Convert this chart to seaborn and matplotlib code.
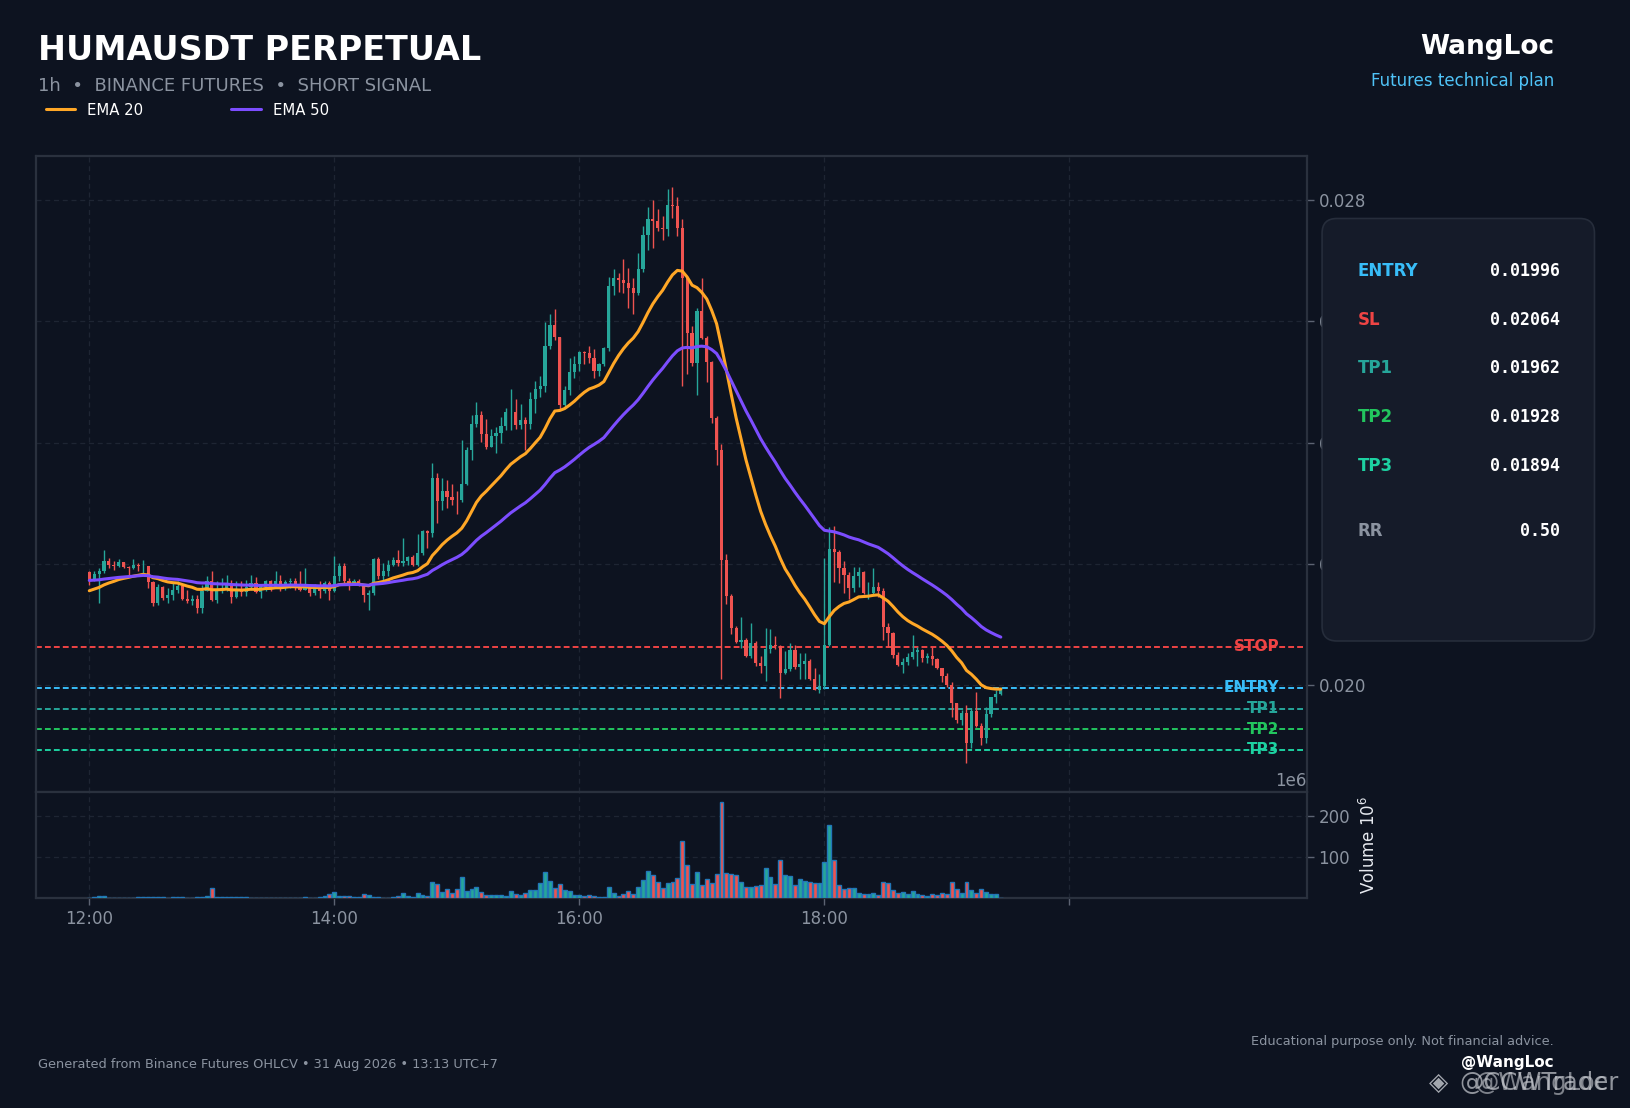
import numpy as np
import pandas as pd
import seaborn as sns
import matplotlib.pyplot as plt
import matplotlib.transforms as mtransforms
from matplotlib.patches import FancyBboxPatch
from matplotlib.ticker import FormatStrFormatter

# ---- data (one candle per slot, 25 slots per hour from 12:00) ----
first_open = 0.021863
closes = [
    0.021742, 0.021841, 0.021879, 0.022055, 0.021989, 0.021962, 0.022033, 0.021945, 0.021934, 0.021989,
    0.021962, 0.021973, 0.021704, 0.021358, 0.021616, 0.021440, 0.021484, 0.021577, 0.021632, 0.021429,
    0.021385, 0.021429, 0.021275, 0.021561, 0.021715, 0.021402, 0.021577, 0.021605, 0.021660, 0.021451,
    0.021577, 0.021539, 0.021616, 0.021687, 0.021539, 0.021616, 0.021715, 0.021605, 0.021715, 0.021605,
    0.021704, 0.021715, 0.021616, 0.021577, 0.021660, 0.021522, 0.021616, 0.021550, 0.021687, 0.021550,
    0.021797, 0.021973, 0.021715, 0.021690, 0.021716, 0.021645, 0.021497, 0.021525, 0.022082, 0.021809,
    0.021880, 0.021989, 0.022071, 0.022016, 0.022044, 0.022115, 0.021989, 0.022180, 0.022552, 0.022508,
    0.023410, 0.023044, 0.023202, 0.023098, 0.023055, 0.023050, 0.023317, 0.023874, 0.024311, 0.024448,
    0.024136, 0.023929, 0.024104, 0.024158, 0.024268, 0.024497, 0.024503, 0.024284, 0.024366, 0.024300,
    0.024710, 0.024885, 0.024940, 0.025595, 0.025940, 0.025732, 0.024612, 0.024858, 0.025158, 0.025295,
    0.025497, 0.025480, 0.025400, 0.025178, 0.025289, 0.025556, 0.026583, 0.026706, 0.026678, 0.026622,
    0.026550, 0.026467, 0.026856, 0.027411, 0.027678, 0.027650, 0.027528, 0.027511, 0.027917, 0.027894,
    0.027539, 0.026706, 0.025806, 0.025317, 0.026161, 0.025728, 0.025333, 0.024411, 0.023872, 0.022067,
    0.021472, 0.020939, 0.020722, 0.020750, 0.020483, 0.020706, 0.020372, 0.020317, 0.020606, 0.020661,
    0.020650, 0.020211, 0.020267, 0.020578, 0.020300, 0.020361, 0.020411, 0.020111, 0.019933, 0.019989,
    0.020667, 0.022242, 0.022204, 0.021929, 0.021820, 0.021600, 0.021803, 0.021874, 0.021518, 0.021530,
    0.021617, 0.021562, 0.020969, 0.020859, 0.020502, 0.020338, 0.020392, 0.020463, 0.020557, 0.020585,
    0.020458, 0.020480, 0.020431, 0.020283, 0.020156, 0.020008, 0.019706, 0.019432, 0.019542, 0.019048,
    0.019584, 0.019333, 0.019130, 0.019525, 0.019805, 0.019860, 0.019937,
]
highs = [
    0.021890, 0.021879, 0.021934, 0.022236, 0.022099, 0.022044, 0.022088, 0.022033, 0.021962, 0.022088,
    0.022016, 0.022066, 0.021973, 0.021726, 0.021671, 0.021632, 0.021605, 0.021687, 0.021715, 0.021660,
    0.021577, 0.021484, 0.021495, 0.021660, 0.021797, 0.021890, 0.021715, 0.021769, 0.021824, 0.021742,
    0.021715, 0.021715, 0.021742, 0.021813, 0.021780, 0.021671, 0.021742, 0.021742, 0.021890, 0.021813,
    0.021742, 0.021769, 0.021769, 0.021890, 0.021934, 0.021671, 0.021671, 0.021715, 0.021715, 0.021715,
    0.022137, 0.022016, 0.022016, 0.021771, 0.021754, 0.021760, 0.021661, 0.021579, 0.022095, 0.022115,
    0.022016, 0.022071, 0.022115, 0.022235, 0.022426, 0.022126, 0.022153, 0.022492, 0.022563, 0.022560,
    0.023656, 0.023503, 0.023410, 0.023382, 0.023317, 0.023202, 0.024038, 0.023929, 0.024448, 0.024666,
    0.024519, 0.024393, 0.024229, 0.024257, 0.024421, 0.024574, 0.024885, 0.024721, 0.024639, 0.024421,
    0.024830, 0.025022, 0.025104, 0.025989, 0.026125, 0.026196, 0.025740, 0.024940, 0.025393, 0.025431,
    0.025513, 0.025513, 0.025590, 0.025539, 0.025317, 0.025578, 0.026733, 0.026861, 0.026789, 0.027028,
    0.026883, 0.026706, 0.027122, 0.027567, 0.027883, 0.027994, 0.027844, 0.027733, 0.028178, 0.028217,
    0.028039, 0.027678, 0.026706, 0.025928, 0.026217, 0.026706, 0.025761, 0.025344, 0.024430, 0.023972,
    0.022161, 0.021511, 0.020983, 0.021122, 0.020789, 0.021028, 0.020733, 0.020483, 0.020939, 0.020928,
    0.020817, 0.020661, 0.020567, 0.020694, 0.020661, 0.020539, 0.020539, 0.020428, 0.020289, 0.020183,
    0.022100, 0.022605, 0.022626, 0.022230, 0.022050, 0.021874, 0.021957, 0.021957, 0.021890, 0.021710,
    0.021929, 0.021710, 0.021600, 0.021024, 0.020887, 0.020557, 0.020458, 0.020530, 0.020832, 0.020639,
    0.020600, 0.020530, 0.020628, 0.020447, 0.020283, 0.020211, 0.020050, 0.019717, 0.019597, 0.019680,
    0.019630, 0.019898, 0.019377, 0.019651, 0.019816, 0.019926, 0.019981,
]
lows = [
    0.021660, 0.021715, 0.021358, 0.021852, 0.021934, 0.021907, 0.021945, 0.021934, 0.021824, 0.021923,
    0.021879, 0.021852, 0.021605, 0.021303, 0.021330, 0.021413, 0.021358, 0.021413, 0.021522, 0.021413,
    0.021358, 0.021330, 0.021193, 0.021193, 0.021550, 0.021385, 0.021358, 0.021522, 0.021561, 0.021358,
    0.021440, 0.021468, 0.021468, 0.021577, 0.021522, 0.021440, 0.021561, 0.021561, 0.021605, 0.021561,
    0.021577, 0.021605, 0.021577, 0.021550, 0.021577, 0.021468, 0.021495, 0.021440, 0.021522, 0.021413,
    0.021539, 0.021715, 0.021687, 0.021579, 0.021661, 0.021640, 0.021372, 0.021240, 0.021497, 0.021754,
    0.021743, 0.021809, 0.021962, 0.021962, 0.021962, 0.021989, 0.021962, 0.021962, 0.022153, 0.022262,
    0.022443, 0.022683, 0.022891, 0.022918, 0.022973, 0.022825, 0.023027, 0.023300, 0.023710, 0.024257,
    0.024011, 0.023902, 0.023929, 0.023830, 0.023994, 0.024213, 0.024213, 0.024229, 0.024229, 0.023874,
    0.024229, 0.024486, 0.024748, 0.024830, 0.025541, 0.025688, 0.024557, 0.024584, 0.024792, 0.025065,
    0.025175, 0.025295, 0.025310, 0.025067, 0.025094, 0.025261, 0.025511, 0.026428, 0.026483, 0.026456,
    0.026217, 0.026122, 0.026428, 0.026817, 0.027178, 0.027206, 0.027483, 0.027344, 0.027400, 0.027706,
    0.027400, 0.024939, 0.025122, 0.025261, 0.024778, 0.025706, 0.024994, 0.024317, 0.023639, 0.020111,
    0.021344, 0.020844, 0.020706, 0.020622, 0.020472, 0.020456, 0.020317, 0.020211, 0.020072, 0.020539,
    0.020594, 0.019794, 0.020183, 0.020239, 0.020267, 0.020100, 0.020100, 0.020089, 0.019922, 0.019878,
    0.019950, 0.020650, 0.021710, 0.021682, 0.021530, 0.021419, 0.021545, 0.021617, 0.021507, 0.021419,
    0.021507, 0.021463, 0.020749, 0.020639, 0.020447, 0.020321, 0.020211, 0.020338, 0.020431, 0.020321,
    0.020392, 0.020376, 0.020338, 0.020266, 0.020050, 0.019981, 0.019487, 0.019377, 0.019350, 0.018718,
    0.018965, 0.019322, 0.019020, 0.019058, 0.019476, 0.019706, 0.019844,
]
# volume in millions
volumes = [
    1, 2.4, 5, 5, 0.5, 0.5, 0.5, 0.5, 0.5, 0.5,
    2.4, 2.4, 2, 2, 2.4, 2.4, 0.5, 2.4, 2.4, 2.4,
    0.5, 0.5, 2.4, 2.4, 5, 24, 2.4, 2.4, 2.4, 2,
    2.4, 2, 2.4, 0.5, 0.5, 0.5, 0.5, 0.5, 0.5, 0.5,
    0.5, 0.5, 0.5, 0.5, 2.4, 0.5, 0.5, 2.4, 5, 10,
    15, 5, 5, 5, 2.4, 2, 10, 7, 2.4, 2,
    0.5, 0.5, 2.4, 5, 12, 5, 2.4, 12, 7, 6.5,
    39, 34, 15, 22, 12, 22, 51, 17, 22, 27,
    15, 7, 7, 7, 7, 5, 17, 10, 7, 12,
    20, 20, 37, 63, 42, 24, 34, 20, 17, 7,
    7, 5, 7, 5, 2.4, 2.4, 27, 12, 5, 10,
    17, 10, 27, 44, 66, 56, 39, 24, 37, 39,
    49, 139, 80, 34, 63, 32, 46, 37, 59, 234,
    61, 59, 56, 39, 27, 27, 29, 32, 73, 51,
    34, 93, 56, 54, 32, 46, 41, 39, 37, 37,
    88, 178, 93, 32, 22, 24, 24, 12, 10, 10,
    12, 7, 39, 37, 20, 12, 15, 10, 17, 10,
    7, 5, 10, 7, 12, 10, 39, 22, 12, 39,
    20, 12, 22, 15, 10, 10, 1,
]
ema20_start = 0.02156
ema50_start = 0.02173

level_names = ["STOP", "ENTRY", "TP1", "TP2", "TP3"]
level_prices = [0.02064, 0.01996, 0.01962, 0.01928, 0.01894]
level_colors = ["#ef4444", "#38bdf8", "#26a69a", "#22c55e", "#1dd1a1"]

plan_names = ["ENTRY", "SL", "TP1", "TP2", "TP3"]
plan_values = ["0.01996", "0.02064", "0.01962", "0.01928", "0.01894"]
plan_colors = ["#38bdf8", "#ef4444", "#26a69a", "#22c55e", "#1dd1a1"]
rr_value = "0.50"

time_ticks = [0, 50, 100, 150, 200]
time_labels = ["12:00", "14:00", "16:00", "18:00", ""]
price_ticks = [0.020, 0.022, 0.024, 0.026, 0.028]
vol_ticks = [100, 200]

BG = "#0d1320"
PANEL = "#151b29"
SPINE = "#2a313e"
GRID = "#1e2533"
MUTED = "#8b93a0"
UP = "#26a69a"
DOWN = "#ef5350"

sns.set_theme(style="dark", rc={
    "figure.facecolor": BG, "axes.facecolor": BG, "savefig.facecolor": BG,
    "axes.edgecolor": SPINE, "text.color": "white",
})
plt.rcParams["font.family"] = ["DejaVu Sans"]

df = pd.DataFrame({"close": closes, "high": highs, "low": lows, "volume": volumes})
df["open"] = [first_open] + closes[:-1]
df["x"] = np.arange(len(df))
df["up"] = df["close"] >= df["open"]


def ema(values, start, span):
    a = 2.0 / (span + 1)
    out = [start]
    for v in values[1:]:
        out.append(a * v + (1 - a) * out[-1])
    return out


df["ema20"] = ema(closes, ema20_start, 20)
df["ema50"] = ema(closes, ema50_start, 50)

fig = plt.figure(figsize=(16.31, 11.08), dpi=100)
ax = fig.add_axes([0.0223, 0.2849, 0.7788, 0.5743])
axv = fig.add_axes([0.0223, 0.1893, 0.7788, 0.0957], sharex=ax)

colors = np.where(df["up"], UP, DOWN)

# candles
ax.vlines(df["x"], df["low"], df["high"], colors=colors, linewidth=1.0, zorder=3)
body_lo = df[["open", "close"]].min(axis=1)
body_h = (df["close"] - df["open"]).abs().clip(lower=0.000008)
ax.bar(df["x"], body_h, bottom=body_lo, width=0.65, color=colors, linewidth=0, zorder=3)

sns.lineplot(data=df, x="x", y="ema20", ax=ax, color="#ffa726", linewidth=2.2, label="EMA 20", zorder=4)
sns.lineplot(data=df, x="x", y="ema50", ax=ax, color="#7c4dff", linewidth=2.2, label="EMA 50", zorder=4)

# trade levels
blend = mtransforms.blended_transform_factory(ax.transAxes, ax.transData)
for name, p, c in zip(level_names, level_prices, level_colors):
    ax.axhline(p, color=c, linestyle=(0, (3, 1.6)), linewidth=1.4, zorder=2.5)
    ax.text(0.9785, p, name, transform=blend, ha="right", va="center", color=c,
            fontsize=11, fontweight="bold", zorder=2)

ax.set_xlim(-10.8, 248.4)
ax.set_ylim(0.01824, 0.02872)
ax.set_yticks(price_ticks)
ax.yaxis.set_major_formatter(FormatStrFormatter("%.3f"))
ax.yaxis.tick_right()
ax.tick_params(axis="y", colors="#5c6372", labelcolor=MUTED, labelsize=12, length=5, width=1,
               right=True, left=False)
ax.tick_params(axis="x", bottom=False, labelbottom=False)
ax.set_xlabel("")
ax.set_ylabel("")
ax.grid(True, color=GRID, linestyle=(0, (4, 3)), linewidth=0.9)

leg = ax.legend(loc="center left", bbox_to_anchor=(0.028, 0.9007), bbox_transform=fig.transFigure,
                ncol=2, frameon=False, fontsize=10.7, labelcolor="white", handlelength=2.0,
                handletextpad=0.8, columnspacing=5.9, borderaxespad=0, borderpad=0)

# volume
axv.bar(df["x"], df["volume"], width=0.8, color=colors, edgecolor="#2277b8", linewidth=1.0, zorder=3)
axv.set_ylim(0, max(volumes) * 1.1)
axv.set_yticks(vol_ticks)
axv.yaxis.tick_right()
axv.set_xticks(time_ticks)
axv.set_xticklabels(time_labels)
axv.tick_params(axis="y", colors="#5c6372", labelcolor=MUTED, labelsize=12, length=5, width=1,
                right=True, left=False)
axv.tick_params(axis="x", colors="#5c6372", labelcolor=MUTED, labelsize=12, length=5, width=1, bottom=True)
axv.grid(True, color=GRID, linestyle=(0, (4, 3)), linewidth=0.9)
axv.yaxis.set_label_position("right")
axv.set_ylabel("Volume $10^6$", color="#e6e9ef", fontsize=12)
axv.yaxis.set_label_coords(1.041, 0.5)
axv.text(1.0, 1.02, "1e6", transform=axv.transAxes, ha="right", va="bottom", color=MUTED, fontsize=12)

for a in (ax, axv):
    for s in a.spines.values():
        s.set_color(SPINE)
        s.set_linewidth(1.6)

# header
fig.text(0.0236, 0.946, "HUMAUSDT PERPETUAL", fontsize=24, fontweight="bold", color="white")
fig.text(0.0236, 0.918, "1h  \u2022  BINANCE FUTURES  \u2022  SHORT SIGNAL", fontsize=13, color=MUTED)
fig.text(0.9528, 0.951, "WangLoc", fontsize=19, fontweight="bold", color="white", ha="right")
fig.text(0.9528, 0.922, "Futures technical plan", fontsize=12, color="#4fc3f7", ha="right")

# trade plan panel
panel = FancyBboxPatch((0.8106, 0.4215), 0.1670, 0.3813, transform=fig.transFigure,
                       boxstyle="round,pad=0,rounding_size=0.009", mutation_aspect=1631 / 1108,
                       facecolor=PANEL, edgecolor="#262d3b", linewidth=1.2, zorder=5)
fig.add_artist(panel)
row_y = [0.7551, 0.7112, 0.6676, 0.6236, 0.5797]
for y, n, v, c in zip(row_y, plan_names, plan_values, plan_colors):
    fig.text(0.8324, y, n, color=c, fontsize=12, fontweight="bold", va="center", zorder=6)
    fig.text(0.9565, y, v, color="white", fontsize=12, fontweight="bold", family="DejaVu Sans Mono",
             ha="right", va="center", zorder=6)
fig.text(0.8324, 0.5210, "RR", color=MUTED, fontsize=12, fontweight="bold", va="center", zorder=6)
fig.text(0.9565, 0.5210, rr_value, color="white", fontsize=12, fontweight="bold", family="DejaVu Sans Mono",
         ha="right", va="center", zorder=6)

# footer
fig.text(0.0236, 0.0397, "Generated from Binance Futures OHLCV \u2022 31 Aug 2026 \u2022 13:13 UTC+7",
         fontsize=9.25, color=MUTED, va="center")
fig.text(0.9528, 0.0596, "Educational purpose only. Not financial advice.", fontsize=9.3, color=MUTED,
         ha="right", va="center")
fig.text(0.9528, 0.0415, "@WangLoc", fontsize=11, fontweight="bold", color="white", ha="right", va="center")
fig.text(0.882, 0.0226, "\u25c8", fontsize=18, color="#c9ccd2", alpha=0.8, ha="center", va="center")
fig.text(0.8946, 0.0226, "@CCWTrader", fontsize=17.5, color="#c9ccd2", alpha=0.7, va="center")
fig.text(0.9040, 0.0226, "@WangLoc", fontsize=17.5, color="#c9ccd2", alpha=0.6, va="center")

fig.savefig("out.png", dpi=100, facecolor=BG)
